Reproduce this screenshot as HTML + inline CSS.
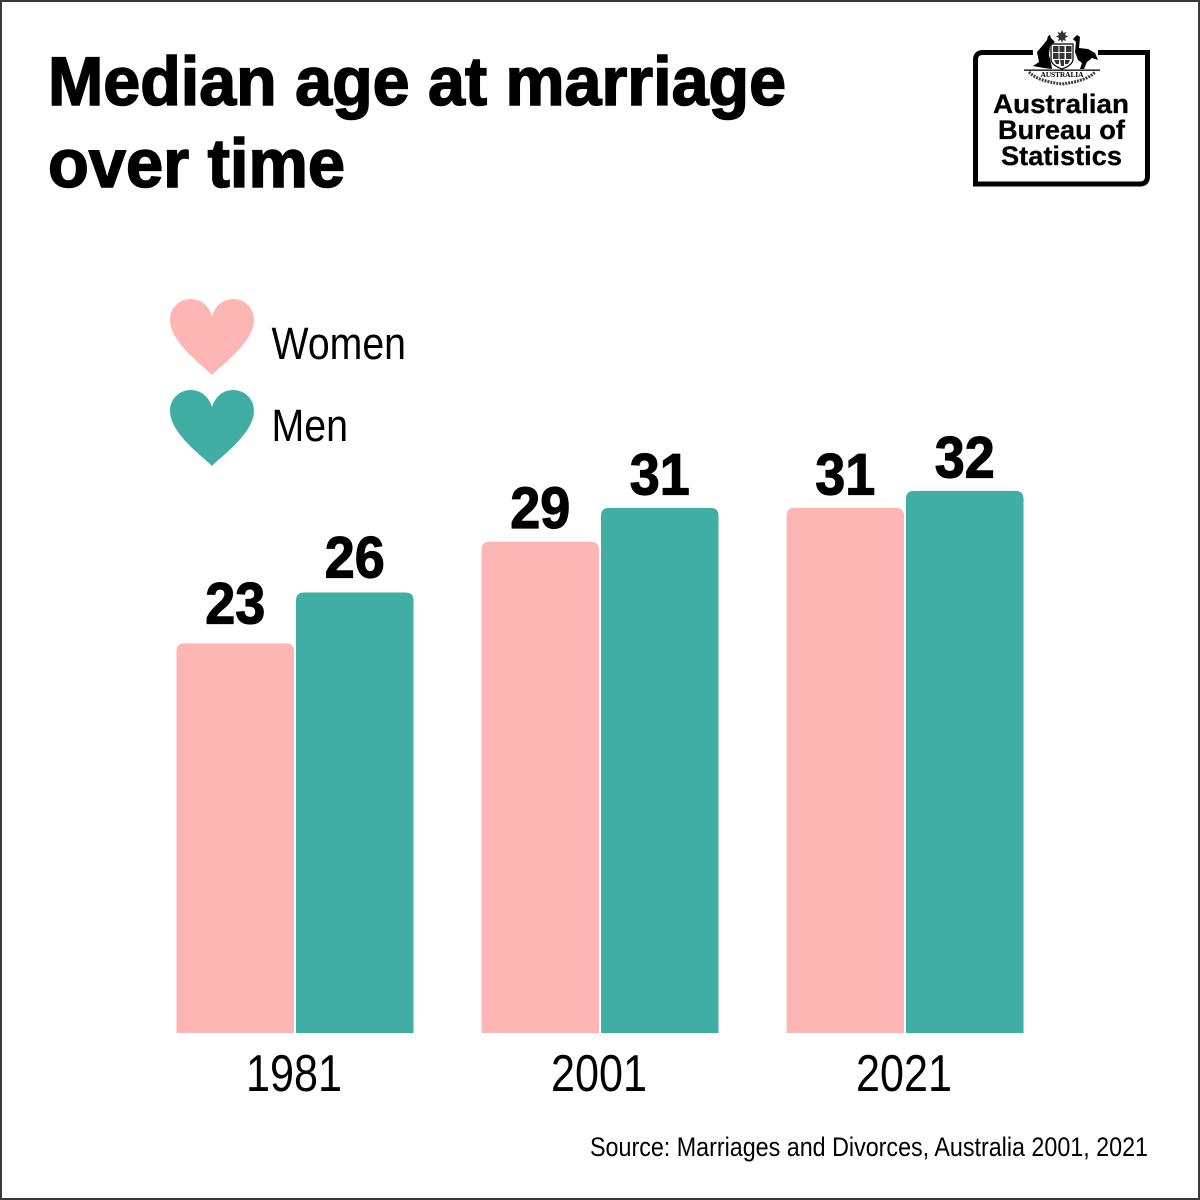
<!DOCTYPE html>
<html lang="en">
<head>
<meta charset="utf-8">
<title>Median age at marriage over time</title>
<style>
html,body{margin:0;padding:0;background:#fff}
svg{display:block}
text{font-family:"Liberation Sans",sans-serif;fill:#000}
</style>
</head>
<body>
<svg id="chart" xmlns="http://www.w3.org/2000/svg" width="1200" height="1200" viewBox="0 0 1200 1200">
  <rect x="1" y="1" width="1198" height="1198" fill="#fff" stroke="#3a3a3a" stroke-width="2"/>

  <text x="48" y="105" font-size="69" font-weight="700" stroke="#000" stroke-width="1.6" textLength="738" lengthAdjust="spacingAndGlyphs">Median age at marriage</text>
  <text x="48" y="187" font-size="69" font-weight="700" stroke="#000" stroke-width="1.6" textLength="297" lengthAdjust="spacingAndGlyphs">over time</text>

  <g>
    <path d="M1033 52.500H983Q975.500 52.500 975.500 60V184H1140Q1147.500 184 1147.500 176V52.500H1098" fill="none" stroke="#000" stroke-width="5"/>
    <g fill="#000">
      <path d="M1050 35L1051 38L1055 42L1050 46L1049 55L1051 63L1052 69L1044 68L1033 66L1039 62L1037 52L1043 45L1047 40L1048 36Z"/>
      <path d="M1077 35L1080 37L1079 48L1088 49L1095 53L1098 60L1092 58L1087 62L1084 69L1080 69L1082 63L1078 60L1075 52L1076 42L1073 39Z"/>
      <path d="M1062 30l1.500 3 3-1-1.500 3 3 1.500-3 1.500 1 3-3-1-1 3-1-3-3 1 1-3-3-1.500 3-1.500-1.500-3 3 1z" opacity=".8"/>
      <path d="M1051 44h22v15q0 6-11 10q-11-4-11-10z" fill="#fff" stroke="#000" stroke-width="1.200"/>
      <path d="M1053 46h5.500v6h-5.500zM1059.500 46h5v6h-5zM1066 46h5.500v6h-5.500zM1053 53h5.500v6h-5.500zM1059.500 53h5v6h-5zM1066 53h5.500v6h-5.500zM1054 60h5v4h-3zM1060 60h4v6h-3zM1065 60h5l-2 4h-3z" opacity=".8"/>
      <rect x="1024" y="69.500" width="76" height="1.300"/>
      <text x="1062" y="77" text-anchor="middle" font-size="7.500" font-weight="700" style="font-family:'Liberation Serif',serif" textLength="43" lengthAdjust="spacing">AUSTRALIA</text>
      <path d="M1029 72q8 9 33 12q25-3 33-12" fill="none" stroke="#000" stroke-width="3" stroke-dasharray="2 1" opacity=".75"/>
    </g>
    <text x="993" y="113" font-size="27" font-weight="700" stroke="#000" stroke-width=".3" textLength="136" lengthAdjust="spacingAndGlyphs">Australian</text>
    <text x="998" y="139" font-size="27" font-weight="700" stroke="#000" stroke-width=".3" textLength="127" lengthAdjust="spacingAndGlyphs">Bureau of</text>
    <text x="1001" y="165" font-size="27" font-weight="700" stroke="#000" stroke-width=".3" textLength="121" lengthAdjust="spacingAndGlyphs">Statistics</text>
  </g>

  <g>
    <g>
      <path d="M212 375C205 367 170 343 170 320C170 308 179 299 191 299C201 299 209 306 212 316C215 306 223 299 233 299C245 299 254 308 254 320C254 343 219 367 212 375Z" fill="#FDB6B3"/>
      <text x="271.500" y="359" font-size="45" textLength="134.500" lengthAdjust="spacingAndGlyphs">Women</text>
    </g>
    <g>
      <path d="M212 466C205 458 170 434 170 411C170 399 179 390 191 390C201 390 209 397 212 407C215 397 223 390 233 390C245 390 254 399 254 411C254 434 219 458 212 466Z" fill="#41AEA4"/>
      <text x="271.500" y="441" font-size="45" textLength="76.500" lengthAdjust="spacingAndGlyphs">Men</text>
    </g>
  </g>

  <g id="bars"></g>
  <g id="value-labels"></g>
  <g id="x-axis"></g>

  <text x="590" y="1156" font-size="27" textLength="558" lengthAdjust="spacingAndGlyphs">Source: Marriages and Divorces, Australia 2001, 2021</text>
</svg>
<script>
const categories = ['1981', '2001', '2021'];
const womenValues = [23, 29, 31];
const menValues = [26, 31, 32];

const SVG_NS = 'http://www.w3.org/2000/svg';
const baselineY = 1033;
const unitHeight = 16.94;
const firstCenter = 295;
const groupStep = 305;
const barWidth = 117.5;
const barGap = 2;
const labelGap = 13.5;

function xCenter(i) { return firstCenter + i * groupStep; }
function yScale(v) { return baselineY - v * unitHeight; }

function barPath(x, y, w, r) {
  return 'M' + x + ' ' + baselineY + 'V' + (y + r) + 'Q' + x + ' ' + y + ' ' + (x + r) + ' ' + y +
    'H' + (x + w - r) + 'Q' + (x + w) + ' ' + y + ' ' + (x + w) + ' ' + (y + r) + 'V' + baselineY + 'Z';
}

function labelRaise(i, side) {
  if (i !== 0) return labelGap;
  return labelGap + (side < 0 ? 6.5 : 1.5);
}

function drawSeries(values, color, side, seriesName) {
  const barsLayer = document.getElementById('bars');
  const labelsLayer = document.getElementById('value-labels');
  values.forEach(function (v, i) {
    const x = side < 0 ? xCenter(i) - barGap / 2 - barWidth : xCenter(i) + barGap / 2;
    const y = yScale(v);

    const bar = document.createElementNS(SVG_NS, 'path');
    bar.setAttribute('d', barPath(x, y, barWidth, 8));
    bar.setAttribute('fill', color);
    
    
    barsLayer.appendChild(bar);

    const label = document.createElementNS(SVG_NS, 'text');
    label.setAttribute('x', x + barWidth / 2);
    label.setAttribute('y', y - labelRaise(i, side));
    label.setAttribute('text-anchor', 'middle');
    label.setAttribute('font-size', '58');
    label.setAttribute('font-weight', '700');
    label.setAttribute('stroke', '#000');
    label.setAttribute('stroke-width', '1.2');
    label.setAttribute('textLength', '60');
    label.setAttribute('lengthAdjust', 'spacingAndGlyphs');
    
    
    label.textContent = String(v);
    labelsLayer.appendChild(label);
  });
}

drawSeries(womenValues, '#FDB6B3', -1, 'women');
drawSeries(menValues, '#41AEA4', 1, 'men');

categories.forEach(function (c, i) {
  const tick = document.createElementNS(SVG_NS, 'text');
  tick.setAttribute('x', xCenter(i) - 1);
  tick.setAttribute('y', 1091);
  tick.setAttribute('text-anchor', 'middle');
  tick.setAttribute('font-size', '52');
  tick.setAttribute('textLength', '96');
  tick.setAttribute('lengthAdjust', 'spacingAndGlyphs');
  
  
  tick.textContent = c;
  document.getElementById('x-axis').appendChild(tick);
});
</script>
</body>
</html>
